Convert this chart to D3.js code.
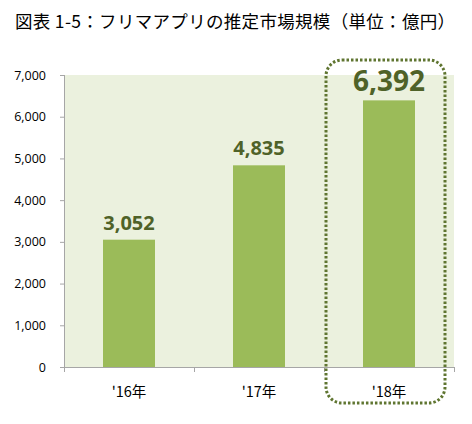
<!DOCTYPE html>
<html>
<head>
<meta charset="utf-8">
<script src="https://cdn.jsdelivr.net/npm/d3@7"></script>
<style>
  body { margin: 0; background: #fff; }
  .axis path, .axis line { stroke: #a6a6a6; }
  .y-axis text { font-family: "Open Sans", sans-serif; font-size: 12.5px; fill: #000; }
  .x-axis text { font-family: "Noto Sans CJK JP", sans-serif; font-size: 14.5px; fill: #000; }
</style>
</head>
<body>
<div id="chart"></div>
<script>
var title = '図表 1-5：フリマアプリの推定市場規模（単位：億円）';
var years = ["'16年", "'17年", "'18年"];
var values = [3052, 4835, 6392];
var yTicks = [0, 1000, 2000, 3000, 4000, 5000, 6000, 7000];
var highlight = "'18年";

var margin = { top: 75, right: 18, bottom: 57, left: 64 };
var width = 472 - margin.left - margin.right;
var height = 424 - margin.top - margin.bottom;

var svg = d3.select('#chart')
  .append('svg')
  .attr('width', 472)
  .attr('height', 424);

svg.append('text')
  .attr('x', 15)
  .attr('y', 28)
  .style('font-family', '"Noto Sans CJK JP", sans-serif')
  .style('font-size', '17.5px')
  .style('font-weight', 'normal')
  .attr('textLength', 440)
  .text(title);

var g = svg.append('g')
  .attr('transform', 'translate(' + margin.left + ',' + margin.top + ')');

var xScale = d3.scaleBand()
  .domain(years)
  .range([0, width])
  .paddingInner(0.6)
  .paddingOuter(0.3);

var yScale = d3.scaleLinear()
  .domain([0, 7000])
  .range([height, 0]);

// plot background
g.append('rect')
  .attr('x', 0)
  .attr('y', 0)
  .attr('width', width)
  .attr('height', height)
  .style('fill', '#ebf1de');

var yAxis = d3.axisLeft(yScale)
  .tickValues(yTicks)
  .tickSize(4)
  .tickPadding(14)
  .tickFormat(d3.format(','));

g.append('g')
  .attr('class', 'axis y-axis')
  .call(yAxis)
  .call(function(s){ s.select('.domain').attr('d', 'M0.5,0V' + height); });

// x axis: ticks sit on band boundaries
var step = xScale.step();
var xAxisG = g.append('g')
  .attr('class', 'axis x-axis')
  .attr('transform', 'translate(0,' + height + ')');

xAxisG.append('line')
  .attr('x1', 0).attr('x2', width)
  .attr('y1', 0.5).attr('y2', 0.5);

xAxisG.selectAll('.tick-line')
  .data(d3.range(years.length + 1))
  .enter().append('line')
  .attr('x1', function(i){ return i * step + 0.5; })
  .attr('x2', function(i){ return i * step + 0.5; })
  .attr('y1', 0)
  .attr('y2', 5);

xAxisG.selectAll('.label')
  .data(years)
  .enter().append('text')
  .attr('x', function(d){ return xScale(d) + xScale.bandwidth() / 2; })
  .attr('y', 30)
  .style('text-anchor', 'middle')
  .text(function(d){ return d; });

// bars
g.selectAll('.bar')
  .data(years)
  .enter().append('rect')
  .attr('class', 'bar')
  .attr('x', function(d){ return xScale(d); })
  .attr('y', function(d, i){ return yScale(values[i]); })
  .attr('width', xScale.bandwidth())
  .attr('height', function(d, i){ return height - yScale(values[i]); })
  .style('fill', '#9bbb59');

// value labels
g.selectAll('.value')
  .data(years)
  .enter().append('text')
  .attr('class', 'value')
  .attr('x', function(d){ return xScale(d) + xScale.bandwidth() / 2; })
  .attr('y', function(d, i){ return yScale(values[i]) - (d === highlight ? 9 : 10); })
  .style('text-anchor', 'middle')
  .style('font-family', '"Open Sans", sans-serif')
  .style('font-weight', 'bold')
  .style('font-size', function(d){ return d === highlight ? '28px' : '20px'; })
  .style('fill', '#4f6228')
  .text(function(d, i){ return d3.format(',')(values[i]); });

// dotted highlight frame
var hx = xScale(highlight) - xScale.step() * xScale.paddingInner() / 2;
g.append('rect')
  .attr('x', hx + 2)
  .attr('y', -15)
  .attr('width', step - 11)
  .attr('height', height + 51)
  .attr('rx', 16)
  .attr('ry', 16)
  .style('fill', 'none')
  .style('stroke', '#5f7530')
  .style('stroke-width', 3)
  .style('stroke-dasharray', '2.5 2');
</script>
</body>
</html>
